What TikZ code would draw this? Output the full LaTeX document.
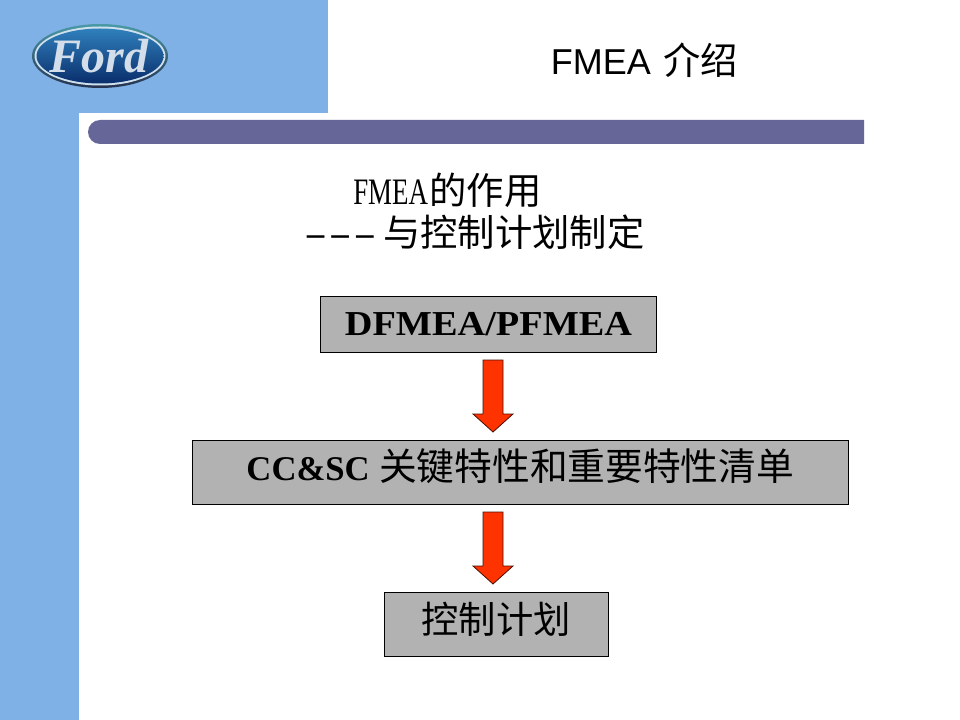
\documentclass[tikz,border=0pt]{standalone}
\usepackage{fontspec}
\usepackage{graphicx}
\setmainfont{Liberation Serif}
\newfontfamily\cjk{Noto Sans CJK SC}
\newfontfamily\arialf{Liberation Sans}
\newfontfamily\monof{Liberation Mono}
\usetikzlibrary{calc,positioning}
\definecolor{panelblue}{HTML}{7FB0E6}
\definecolor{barpurple}{HTML}{666699}
\definecolor{boxgrey}{HTML}{B2B2B2}
\definecolor{arrowred}{HTML}{FF3300}
\definecolor{rimtop}{HTML}{4A9AA6}
\definecolor{rimbottom}{HTML}{26324F}
\definecolor{ovaltop}{HTML}{2F80BC}
\definecolor{ovalbottom}{HTML}{0A2E6C}
\definecolor{ringc}{HTML}{CFE0EE}
\definecolor{fordc}{HTML}{D3DEEA}
\tikzset{
  flowbox/.style={draw=black,line width=0.7pt,fill=boxgrey,inner sep=0pt,text=black,align=center},
  blockarrow/.style={draw=black!70!arrowred,line width=0.6pt,fill=arrowred,line join=miter},
  heading/.style={anchor=base west,inner sep=0pt,text=black}
}
\newcommand{\blockarrowpath}[2]{%
  \draw[blockarrow] let \p1=(#1), \p2=(#2) in
    (\x1-7.5pt,\y1) -- (\x1+7.5pt,\y1) -- (\x1+7.5pt,\y2+13.5pt) -- (\x1+15pt,\y2+13.5pt)
    -- (\x2,\y2) -- (\x1-15pt,\y2+13.5pt) -- (\x1-7.5pt,\y2+13.5pt) -- cycle;}
\begin{document}
\begin{tikzpicture}[x=0.75pt,y=-0.75pt]
\useasboundingbox (0,0) rectangle (960,720);
\fill[white] (0,0) rectangle (960,720);
% panels
\fill[panelblue] (0,0) rectangle (328,113);
\fill[panelblue] (0,113) rectangle (79,720);
% bar
\fill[barpurple] (864,120) -- (100,120) arc[start angle=-90,end angle=-270,x radius=12,y radius=12] -- (864,144) -- cycle;
% logo
\shade[top color=rimtop,bottom color=rimbottom] (100,56) ellipse[x radius=68,y radius=32];
\fill[ringc] (100,56) ellipse[x radius=65.5,y radius=29.5];
\shade[top color=ovaltop,bottom color=ovalbottom] (100,56) ellipse[x radius=63.5,y radius=27.5];
\node[inner sep=0pt,text=fordc] (fordlogo) at (99,56) {\fontsize{36pt}{36pt}\selectfont\itshape\bfseries Ford};
% title
\node[heading] (title) at (550.5,74.5) {\fontsize{27pt}{27pt}\selectfont\arialf FMEA\hspace{9.5pt}{\fontsize{28pt}{28pt}\selectfont\cjk 介绍}};
\node[heading] (head1) at (353,204.5) {\fontsize{28pt}{28pt}\selectfont\scalebox{.72}[1]{FMEA}\hspace{1.2pt}{\cjk 的作用}};
\node[heading] (head2) at (303,246.5) {\fontsize{28pt}{28pt}\selectfont\scalebox{1.1}[1]{\monof –––}\hspace{4.5pt}{\cjk 与控制计划制定}};
% boxes
\node[flowbox,minimum width=252.5pt,minimum height=41.6pt] (b1) at (488.5,324.3)
  {\fontsize{26.25pt}{26.25pt}\selectfont\bfseries\scalebox{1.094}[1]{DFMEA/PFMEA}};
\node[flowbox,minimum width=492.5pt,minimum height=48pt,text height=20pt,text depth=8pt] (b2) at (520.3,472)
  {\fontsize{26pt}{26pt}\selectfont\bfseries CC\&SC\hspace{7pt}{\mdseries\fontsize{28.3pt}{28.3pt}\selectfont\cjk 关键特性和重要特性清单}};
\node[flowbox,minimum width=168.5pt,minimum height=48pt,text height=20pt,text depth=6.5pt] (b3) at (496.3,624)
  {\fontsize{28pt}{28pt}\selectfont\cjk 控制计划};
% connectors
\coordinate (a1s) at (493,360);
\coordinate (a1e) at (493,432);
\coordinate (a2s) at (493,512);
\coordinate (a2e) at (493,584);
\blockarrowpath{a1s}{a1e}
\blockarrowpath{a2s}{a2e}
\end{tikzpicture}
\end{document}
